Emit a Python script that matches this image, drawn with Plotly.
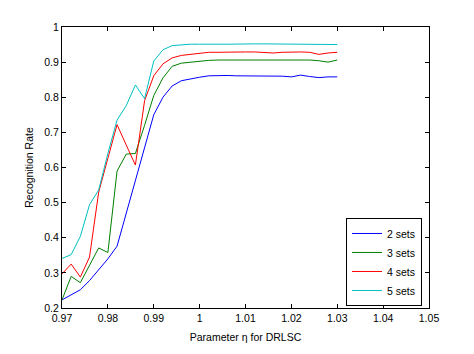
import plotly.graph_objects as go

eta = [0.970, 0.972, 0.974, 0.976, 0.978, 0.980, 0.982, 0.984, 0.986, 0.988,
       0.990, 0.992, 0.994, 0.996, 0.998, 1.000, 1.002, 1.004, 1.006, 1.008,
       1.010, 1.012, 1.014, 1.016, 1.018, 1.020, 1.022, 1.024, 1.026, 1.028, 1.030]

sets2 = [0.223, 0.237, 0.252, 0.278, 0.310, 0.340, 0.376, 0.470, 0.560, 0.650,
         0.750, 0.800, 0.832, 0.847, 0.853, 0.857, 0.861, 0.862, 0.862, 0.861,
         0.861, 0.861, 0.860, 0.860, 0.860, 0.858, 0.863, 0.859, 0.856, 0.858, 0.858]

sets3 = [0.223, 0.290, 0.272, 0.320, 0.371, 0.358, 0.590, 0.638, 0.640, 0.720,
         0.805, 0.855, 0.888, 0.897, 0.900, 0.903, 0.905, 0.906, 0.906, 0.906,
         0.908, 0.908, 0.907, 0.907, 0.906, 0.906, 0.906, 0.906, 0.904, 0.900, 0.906]

sets4 = [0.297, 0.325, 0.288, 0.345, 0.530, 0.630, 0.722, 0.664, 0.607, 0.790,
         0.861, 0.895, 0.912, 0.919, 0.922, 0.926, 0.928, 0.928, 0.929, 0.929,
         0.929, 0.929, 0.928, 0.926, 0.928, 0.929, 0.929, 0.928, 0.922, 0.926, 0.928]

sets5 = [0.341, 0.352, 0.404, 0.494, 0.536, 0.640, 0.735, 0.776, 0.835, 0.796,
         0.903, 0.935, 0.947, 0.950, 0.951, 0.951, 0.952, 0.951, 0.951, 0.952,
         0.952, 0.952, 0.952, 0.952, 0.952, 0.952, 0.952, 0.952, 0.950, 0.951, 0.950]

series_names = ["2 sets", "3 sets", "4 sets", "5 sets"]
series_colors = ["#0000ff", "#008000", "#ff0000", "#00bfbf"]

x_ticks = [0.97, 0.98, 0.99, 1.00, 1.01, 1.02, 1.03, 1.04, 1.05]
x_ticktext = ["0.97", "0.98", "0.99", "1", "1.01", "1.02", "1.03", "1.04", "1.05"]
y_ticks = [0.2, 0.3, 0.4, 0.5, 0.6, 0.7, 0.8, 0.9, 1.0]
y_ticktext = ["0.2", "0.3", "0.4", "0.5", "0.6", "0.7", "0.8", "0.9", "1"]

FONT = "Liberation Sans, Arial, Helvetica, sans-serif"

fig = go.Figure()
for name, ys, col in zip(series_names, [sets2, sets3, sets4, sets5], series_colors):
    fig.add_trace(go.Scatter(x=eta, y=ys, mode="lines", name=name,
                             line=dict(color=col, width=1)))

axis_common = dict(showline=True, linecolor="black", linewidth=1, mirror="ticks",
                   ticks="inside", ticklen=4, tickcolor="black", showgrid=False,
                   zeroline=False, tickfont=dict(family=FONT, size=10.5, color="black"))

fig.update_layout(
    width=474, height=354,
    margin=dict(l=62, r=45, t=27, b=40),
    paper_bgcolor="white", plot_bgcolor="white",
    font=dict(family=FONT, size=10.5, color="black"),
    xaxis=dict(range=[0.97, 1.05], tickvals=x_ticks, ticktext=x_ticktext,
               title=dict(text="Parameter η for DRLSC", font=dict(family=FONT, size=10.5), standoff=11),
               **axis_common),
    yaxis=dict(range=[0.2, 1.0], tickvals=y_ticks, ticktext=y_ticktext,
               title=dict(text="Recognition Rate", font=dict(family=FONT, size=10.5), standoff=8),
               **axis_common),
    legend=dict(x=(422 - 62) / 367, xanchor="right", y=(314 - 267) / 287, yanchor="middle",
                bgcolor="white", bordercolor="black", borderwidth=1,
                font=dict(family=FONT, size=10.5), tracegroupgap=0),
    showlegend=True,
)

fig.write_html("out.html")
